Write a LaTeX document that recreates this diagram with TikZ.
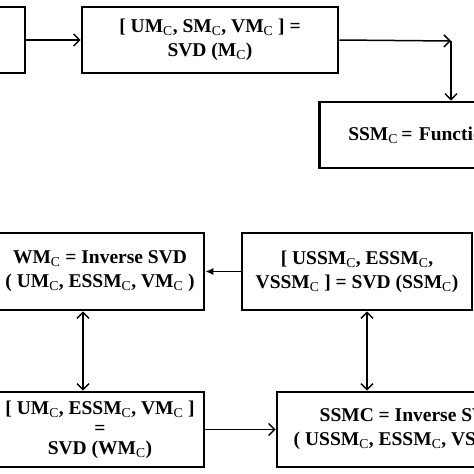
\documentclass[tikz,border=0pt]{standalone}
\usepackage{fontspec}
\setmainfont{Liberation Serif}
\usetikzlibrary{arrows.meta}
\def\sub#1{\textsubscript{\normalfont #1}}

\begin{document}
\begin{tikzpicture}[x=1pt, y=-1pt,
                      blockbox/.style = {shape=rectangle, draw, line width=2.6pt,
                        align=center, inner sep=0pt,
                        font=\fontsize{19.5}{24}\selectfont\bfseries},
                      flow/.style = {line width=1.5pt,
                        -{Straight Barb[length=6pt,width=12pt]}},
                      twoway/.style = {line width=1.5pt,
                        {Straight Barb[length=6pt,width=12pt]}-{Straight Barb[length=6pt,width=12pt]}},
                      back/.style = {line width=1.5pt,
                        -{Latex[length=8pt,width=7pt]}}]
                      \useasboundingbox (0,0) rectangle (474,474);
                      \clip (0,0) rectangle (474,474);
                      % top row
                      \node[blockbox, minimum width=170pt, minimum height=66pt] (input) at (-60,40) {};
                      \node[blockbox, minimum width=256pt, minimum height=66pt] (svdm) at (210,40)
                        {[ UM\sub{C}, SM\sub{C}, VM\sub{C} ] =\\ SVD (M\sub{C})};
                      \node[blockbox, anchor=west, text width=300pt, align=left,
                        inner xsep=29pt, minimum height=66pt] (ssm) at (318,135)
                        {SSM\sub{C}\,= Function};
                      % middle row
                      \node[blockbox, minimum width=208pt, minimum height=77pt] (wm) at (100,271.5)
                        {WM\sub{C} = Inverse SVD\\ ( UM\sub{C}, ESSM\sub{C}, VM\sub{C} )};
                      \node[blockbox, minimum width=230pt, minimum height=77pt] (svdssm) at (357,271.5)
                        {[ USSM\sub{C}, ESSM\sub{C},\\ VSSM\sub{C} ] = SVD (SSM\sub{C})};
                      % bottom row
                      \node[blockbox, minimum width=208pt, minimum height=75pt] (svdwm) at (100,429.5)
                        {[ UM\sub{C}, ESSM\sub{C}, VM\sub{C} ]\\[-4pt] =\\[-4pt] SVD (WM\sub{C})};
                      \node[blockbox, minimum width=266pt, minimum height=75pt] (ssmc) at (410,429.5)
                        {SSMC = Inverse SVD\\ ( USSM\sub{C}, ESSM\sub{C}, VSSM\sub{C} )};
                      % connectors
                      \coordinate (turn) at (451,41);
                      \coordinate (lx) at (83,0);
                      \coordinate (rx) at (367,0);
                      \coordinate (feed) at (500,279);
                      \draw[flow] (input.east) -- (svdm.west);
                      \draw[flow] (svdm.east) -- (turn);
                      \draw[flow] (turn) -- (turn |- ssm.north);
                      \draw[back] (svdssm.west) -- (wm.east);
                      \draw[back] (feed) -- (svdssm.east |- feed);
                      \draw[twoway] (wm.south -| lx) -- (svdwm.north -| lx);
                      \draw[twoway] (svdssm.south -| rx) -- (ssmc.north -| rx);
                      \draw[flow] (svdwm.east) -- (ssmc.west);
                    \end{tikzpicture}
\end{document}
